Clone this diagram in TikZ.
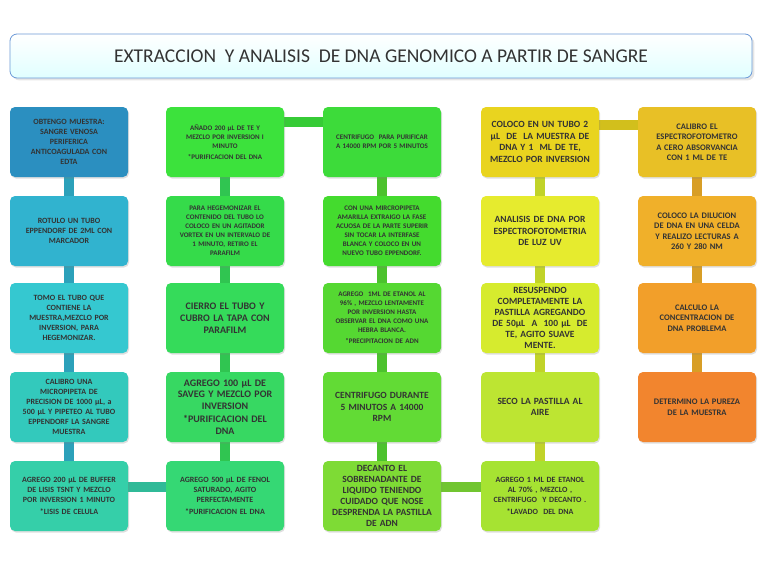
\documentclass[tikz,border=0pt]{standalone}
\usepackage{fontspec}
\setmainfont{Carlito}
\usetikzlibrary{shadows}
\tikzset{
 box/.style={rounded corners=5pt, minimum width=118pt, minimum height=70pt, text width=114pt, align=center, inner sep=2pt, font=\fontsize{7.5}{9.5}\selectfont\bfseries, text=black!80, drop shadow={opacity=0.25, shadow xshift=1pt, shadow yshift=-1.5pt}},
 bar/.style={line width=10pt}
}
\definecolor{a1}{HTML}{2B8FC0}\definecolor{a2}{HTML}{31B3CF}\definecolor{a3}{HTML}{35C8D0}\definecolor{a4}{HTML}{33C9BC}\definecolor{a5}{HTML}{35CFA9}
\definecolor{b1}{HTML}{3CE23C}\definecolor{b2}{HTML}{35DB4A}\definecolor{b3}{HTML}{35DB5A}\definecolor{b4}{HTML}{37D862}\definecolor{b5}{HTML}{35D874}
\definecolor{c1}{HTML}{3DDB3A}\definecolor{c2}{HTML}{44DB2E}\definecolor{c3}{HTML}{55D832}\definecolor{c4}{HTML}{62DB35}\definecolor{c5}{HTML}{7EDB35}
\definecolor{d1}{HTML}{E9D41F}\definecolor{d2}{HTML}{E6EB2E}\definecolor{d3}{HTML}{D6EB2E}\definecolor{d4}{HTML}{BDE532}\definecolor{d5}{HTML}{A6E332}
\definecolor{e1}{HTML}{E8C026}\definecolor{e2}{HTML}{F0B02A}\definecolor{e3}{HTML}{F29F2A}\definecolor{e4}{HTML}{F2852E}
\begin{document}
\begin{tikzpicture}[x=1pt,y=-1pt]
\useasboundingbox[fill=white] (0,0) rectangle (768,576);
\node[rounded corners=7pt, draw=cyan!50!blue!60, line width=0.8pt, top color=white, bottom color=cyan!12, minimum width=742pt, minimum height=44pt, font=\fontsize{19.5}{22}\selectfont, text=black!80, drop shadow={opacity=0.2}] (title) at (381,56) {EXTRACCION \ Y ANALISIS \ DE DNA GENOMICO A PARTIR DE SANGRE};
% bars
\draw[bar, a2!90!black] (69,142) -- (69,496);
\draw[bar, a5!90!black] (69,487) -- (225,487);
\draw[bar, b3!90!black] (225,142) -- (225,496);
\draw[bar, b1!90!black] (225,122) -- (382,122);
\draw[bar, c3!90!black] (382,142) -- (382,496);
\draw[bar, c5!90!black] (382,487) -- (540,487);
\draw[bar, d3!90!black] (540,142) -- (540,496);
\draw[bar, d1!90!black] (540,125) -- (697,125);
\draw[bar, e2!90!black] (697,142) -- (697,407);
% col1
\node[box, fill=a1, font=\fontsize{8}{10}\selectfont\bfseries] (a1n) at (69,142) {OBTENGO MUESTRA:\\SANGRE VENOSA\\PERIFERICA\\ANTICOAGULADA CON\\EDTA};
\node[box, fill=a2, font=\fontsize{8}{10}\selectfont\bfseries] (a2n) at (69,231) {ROTULO UN TUBO\\EPPENDORF DE 2ML CON\\MARCADOR};
\node[box, fill=a3, font=\fontsize{8}{10}\selectfont\bfseries] (a3n) at (69,318) {TOMO EL TUBO QUE\\CONTIENE LA\\MUESTRA,MEZCLO POR\\INVERSION, PARA\\HEGEMONIZAR.};
\node[box, fill=a4, font=\fontsize{8}{10}\selectfont\bfseries] (a4n) at (69,407) {CALIBRO UNA\\MICROPIPETA DE\\PRECISION DE 1000 µL, a\\500 µL Y PIPETEO AL TUBO\\EPPENDORF LA SANGRE\\MUESTRA};
\node[box, fill=a5, font=\fontsize{8}{10}\selectfont\bfseries] (a5n) at (69,496) {AGREGO 200 µL DE BUFFER\\DE LISIS TSNT Y MEZCLO\\POR INVERSION 1 MINUTO\\[2pt]*LISIS DE CELULA};
% col2
\node[box, fill=b1, font=\fontsize{7}{9}\selectfont\bfseries] (b1n) at (225,142) {AÑADO 200 µL DE TE Y\\MEZCLO POR INVERSION I\\MINUTO\\[2pt]*PURIFICACION DEL DNA};
\node[box, fill=b2, font=\fontsize{7}{9}\selectfont\bfseries] (b2n) at (225,231) {PARA HEGEMONIZAR EL\\CONTENIDO DEL TUBO LO\\COLOCO EN UN AGITADOR\\VORTEX EN UN INTERVALO DE\\1 MINUTO, RETIRO EL\\PARAFILM};
\node[box, fill=b3, font=\fontsize{10}{12}\selectfont\bfseries] (b3n) at (225,318) {CIERRO EL TUBO Y\\CUBRO LA TAPA CON\\PARAFILM};
\node[box, fill=b4, font=\fontsize{10}{11.5}\selectfont\bfseries] (b4n) at (225,407) {AGREGO 100 µL DE\\SAVEG Y MEZCLO POR\\INVERSION\\[2pt]*PURIFICACION DEL\\DNA};
\node[box, fill=b5, font=\fontsize{8}{10}\selectfont\bfseries] (b5n) at (225,496) {AGREGO 500 µL DE FENOL\\SATURADO, AGITO\\PERFECTAMENTE\\[2pt]*PURIFICACION EL DNA};
% col3
\node[box, fill=c1, font=\fontsize{7}{9}\selectfont\bfseries] (c1n) at (382,142) {CENTRIFUGO \ PARA PURIFICAR\\A 14000 RPM POR 5 MINUTOS};
\node[box, fill=c2, font=\fontsize{7}{9}\selectfont\bfseries] (c2n) at (382,231) {CON UNA MIRCROPIPETA\\AMARILLA EXTRAIGO LA FASE\\ACUOSA DE LA PARTE SUPERIR\\SIN TOCAR LA INTERFASE\\BLANCA Y COLOCO EN UN\\NUEVO TUBO EPPENDORF.};
\node[box, fill=c3, font=\fontsize{7}{9}\selectfont\bfseries] (c3n) at (382,318) {AGREGO \ 1ML DE ETANOL AL\\96\% , MEZCLO LENTAMENTE\\POR INVERSION HASTA\\OBSERVAR EL DNA COMO UNA\\HEBRA BLANCA.\\[2pt]*PRECIPITACION DE ADN};
\node[box, fill=c4, font=\fontsize{9.5}{11.5}\selectfont\bfseries] (c4n) at (382,407) {CENTRIFUGO DURANTE\\5 MINUTOS A 14000\\RPM};
\node[box, fill=c5, font=\fontsize{9.5}{11}\selectfont\bfseries] (c5n) at (382,496) {DECANTO EL\\SOBRENADANTE DE\\LIQUIDO TENIENDO\\CUIDADO QUE NOSE\\DESPRENDA LA PASTILLA\\DE ADN};
% col4
\node[box, fill=d1, font=\fontsize{9.5}{11.5}\selectfont\bfseries] (d1n) at (540,142) {COLOCO EN UN TUBO 2\\µL \ DE \ LA MUESTRA DE\\DNA Y 1 \ ML DE TE,\\MEZCLO POR INVERSION};
\node[box, fill=d2, font=\fontsize{9.5}{11.5}\selectfont\bfseries] (d2n) at (540,231) {ANALISIS DE DNA POR\\ESPECTROFOTOMETRIA\\DE LUZ UV};
\node[box, fill=d3, font=\fontsize{9.5}{11}\selectfont\bfseries] (d3n) at (540,318) {RESUSPENDO\\COMPLETAMENTE LA\\PASTILLA AGREGANDO\\DE 50µL \ A \ 100 µL \ DE\\TE, AGITO SUAVE\\MENTE.};
\node[box, fill=d4, font=\fontsize{9.5}{11.5}\selectfont\bfseries] (d4n) at (540,407) {SECO LA PASTILLA AL\\AIRE};
\node[box, fill=d5, font=\fontsize{8}{10}\selectfont\bfseries] (d5n) at (540,496) {AGREGO 1 ML DE ETANOL\\AL 70\% , MEZCLO ,\\CENTRIFUGO \ Y DECANTO .\\[2pt]*LAVADO \ DEL DNA};
% col5
\node[box, fill=e1, font=\fontsize{8.5}{10.5}\selectfont\bfseries] (e1n) at (697,142) {CALIBRO EL\\ESPECTROFOTOMETRO\\A CERO ABSORVANCIA\\CON 1 ML DE TE};
\node[box, fill=e2, font=\fontsize{8.5}{10.5}\selectfont\bfseries] (e2n) at (697,231) {COLOCO LA DILUCION\\DE DNA EN UNA CELDA\\Y REALIZO LECTURAS A\\260 Y 280 NM};
\node[box, fill=e3, font=\fontsize{8.5}{10.5}\selectfont\bfseries] (e3n) at (697,318) {CALCULO LA\\CONCENTRACION DE\\DNA PROBLEMA};
\node[box, fill=e4, font=\fontsize{8.5}{10.5}\selectfont\bfseries] (e4n) at (697,407) {DETERMINO LA PUREZA\\DE LA MUESTRA};
\end{tikzpicture}
\end{document}
